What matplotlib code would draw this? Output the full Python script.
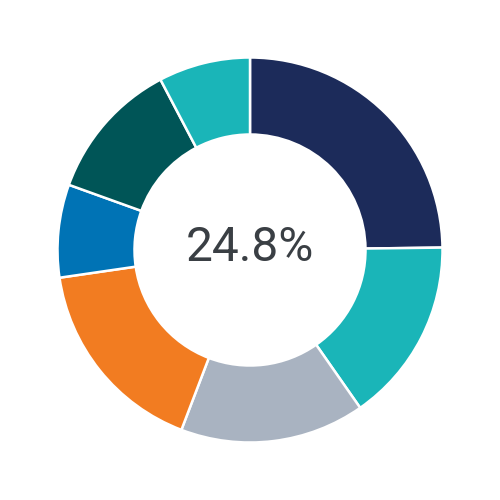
import matplotlib
matplotlib.use("Agg")
import matplotlib.pyplot as plt

# 各扇区占比（顺时针，从 12 点钟开始）
shares = [24.8, 15.5, 15.5, 16.9, 7.8, 11.8, 7.7]
colors = ["#1c2b5a", "#1ab5b8", "#a9b3c1", "#f27c21", "#0073b5", "#005557", "#1ab5b8"]
center_label = "24.8%"

fig = plt.figure(figsize=(5, 5), dpi=100)
ax = fig.add_axes([0, 0, 1, 1])

ax.pie(shares, colors=colors, startangle=90, counterclock=False, radius=1.0,
       wedgeprops=dict(width=0.4, edgecolor="white", linewidth=1.8))

ax.text(0, 0.01, center_label, ha="center", va="center", fontsize=34.5,
        color="#3a3f44", family="Roboto", fontweight="normal")

lim = 250 / 192.5
ax.set_xlim(-lim, lim)
ax.set_ylim(-lim, lim)
ax.set_aspect("equal")
ax.axis("off")

plt.savefig("out.png", dpi=100)
